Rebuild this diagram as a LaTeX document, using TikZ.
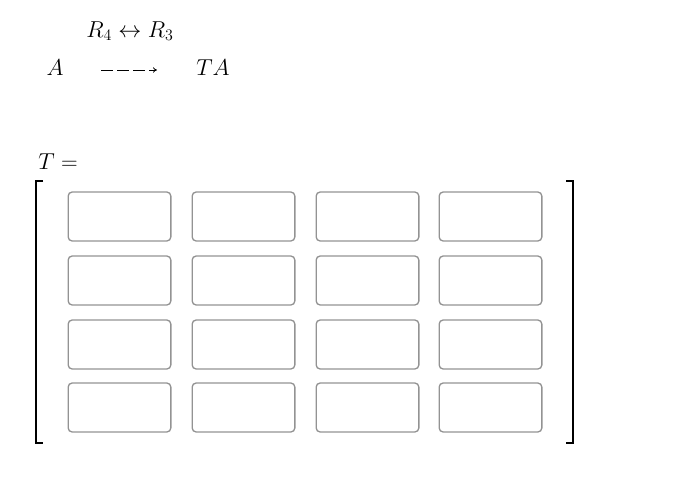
\documentclass[tikz,border=0pt]{standalone}
\usetikzlibrary{arrows.meta}
\begin{document}
\begin{tikzpicture}[x=0.75pt,y=-0.75pt,
  cell/.style={draw=gray!85,line width=1pt,rounded corners=3pt,minimum width=77pt,minimum height=36.75pt,inner sep=0pt},
  lbl/.style={inner sep=0pt,font=\fontsize{19}{22}\selectfont},
  brk/.style={line width=1.1pt}]
\useasboundingbox (0,0) rectangle (700,479);
\node[lbl,font=\fontsize{17}{20}\selectfont] (rr) at (130,31) {$R_4\leftrightarrow R_3$};
\node[lbl] (a) at (55,68) {$A$};
\node[lbl] (ta) at (213,68) {$TA$};
\coordinate (s) at (101,70);
\coordinate (e) at (157,70);
\draw[line width=0.6pt,dash pattern=on 9pt off 3pt,-{To[length=3pt,width=4pt]}] (s) -- (e);
\node[lbl] (teq) at (58,162) {$T=$};
\draw[brk] (43,181) -- (36,181) -- (36,443) -- (43,443);
\draw[brk] (566,181) -- (573,181) -- (573,443) -- (566,443);
\foreach \c/\x in {1/119.5,2/243.5,3/367.5,4/490.5}{
  \foreach \r/\y in {1/216.5,2/280.5,3/344.5,4/407.5}{
    \node[cell] (c\r\c) at (\x,\y) {};
  }
}
\end{tikzpicture}
\end{document}
